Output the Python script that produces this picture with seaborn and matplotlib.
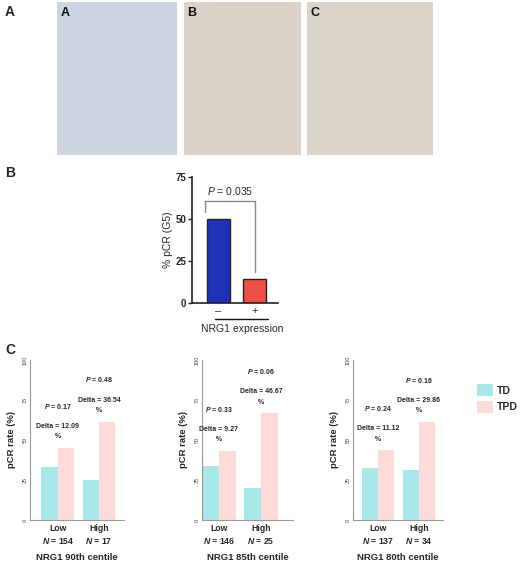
import matplotlib
matplotlib.use("Agg")
import matplotlib.pyplot as plt
import seaborn as sns
import pandas as pd
from matplotlib.lines import Line2D
from matplotlib.patches import Patch

sns.set_theme(style="white")
plt.rcParams['font.family'] = ['Liberation Sans', 'DejaVu Sans']
plt.rcParams['mathtext.fontset'] = 'custom'
plt.rcParams['mathtext.it'] = 'Liberation Sans:italic'
plt.rcParams['mathtext.sf'] = 'Liberation Sans:italic:bold'
plt.rcParams['mathtext.rm'] = 'Liberation Sans'

# ---- Data ----
# Panel B
b_groups = ['–', '+']
b_values = [50.0, 14.0]
b_colors = ['#2030b8', '#ec4f47']
b_pvalue = '0.035'

# Panel C
c_groups = ['Low', 'High']
c_arms = ['TD', 'TPD']
c_titles = ['NRG1 90th centile', 'NRG1 85th centile', 'NRG1 80th centile']
c_td = [[33.0, 25.0], [34.0, 20.0], [32.5, 31.3]]
c_tpd = [[45.1, 61.5], [43.3, 66.7], [43.6, 61.2]]
c_n = [[154, 17], [146, 25], [137, 34]]
c_p = [['0.17', '0.48'], ['0.33', '0.06'], ['0.24', '0.16']]
c_delta = [['12.09', '36.54'], ['9.27', '46.67'], ['11.12', '29.86']]
palette = {'TD': '#a9e8e9', 'TPD': '#fddbd8'}

W, H = 520, 561
fig = plt.figure(figsize=(W / 100, H / 100), dpi=100)


def box(x0, y0, x1, y1):
    return [x0 / W, 1 - y1 / H, (x1 - x0) / W, (y1 - y0) / H]


# ---- Panel A: image placeholders ----
img_boxes = [(57, 2, 177, 155), (184, 2, 301, 155), (307, 2, 433, 155)]
img_cols = ['#cdd4e2', '#dcd1c6', '#dbd4c9']
for (x0, y0, x1, y1), col, lab in zip(img_boxes, img_cols, ['A', 'B', 'C']):
    a = fig.add_axes(box(x0, y0, x1, y1))
    a.set_facecolor(col)
    a.set_xticks([]); a.set_yticks([])
    for s in a.spines.values():
        s.set_visible(False)
    a.text(0.03, 0.97, lab, transform=a.transAxes, ha='left', va='top',
           fontsize=9, fontweight='bold', color='#111111')

fig.text(5 / W, 1 - 12 / H, 'A', fontsize=10, fontweight='bold', va='center')
fig.text(5 / W, 1 - 173 / H, 'B', fontsize=10, fontweight='bold', va='center')
fig.text(5 / W, 1 - 350 / H, 'C', fontsize=10, fontweight='bold', va='center')

# ---- Panel B ----
axb = fig.add_axes(box(192, 177, 278, 303))
dfb = pd.DataFrame({'group': b_groups, 'value': b_values})
sns.barplot(data=dfb, x='group', y='value', hue='group', palette=b_colors,
            width=0.64, saturation=1, edgecolor='#222222', linewidth=1.0,
            legend=False, ax=axb)
axb.set_xlim(-0.736, 1.653)
axb.set_ylim(0, 75)
axb.set_yticks([0, 25, 50, 75])
axb.tick_params(axis='y', labelsize=7, length=3, width=1, color='#222222', pad=1, left=True)
axb.tick_params(axis='x', labelsize=8, length=0, pad=2)
for lab in axb.get_yticklabels():
    lab.set_fontweight('bold')
axb.spines['top'].set_visible(False)
axb.spines['right'].set_visible(False)
for s in ['left', 'bottom']:
    axb.spines[s].set_color('#222222')
    axb.spines[s].set_linewidth(1.2)
axb.set_xlabel('')
axb.set_ylabel('% pCR (G5)', fontsize=7.5, labelpad=2)
# significance bracket
bx0, bx1 = -0.375, 1.01
axb.plot([bx0, bx0, bx1, bx1], [54.2, 60.9, 60.9, 18.5], color='#888888', lw=1.0, clip_on=False)
axb.text((bx0 + bx1) / 2, 66.5, r'$\mathit{P}$ = ' + b_pvalue, ha='center', va='center', fontsize=7.5)
# group line and label below
fig.add_artist(Line2D([215 / W, 268 / W], [1 - 319 / H, 1 - 319 / H], color='#111111', lw=1.0))
fig.text(242 / W, 1 - 329 / H, 'NRG1 expression', ha='center', va='center', fontsize=7.5)

# ---- Panel C ----
c_axes = [(30, 124, -0.68, 1.61), (202, 293, -0.40, 1.76), (353, 443, -0.61, 1.59)]
for i, (x0, x1, xl, xr) in enumerate(c_axes):
    ax = fig.add_axes(box(x0, 360, x1, 520))
    rows = []
    for g, grp in enumerate(c_groups):
        rows.append({'group': grp, 'arm': 'TD', 'rate': c_td[i][g]})
        rows.append({'group': grp, 'arm': 'TPD', 'rate': c_tpd[i][g]})
    df = pd.DataFrame(rows)
    sns.barplot(data=df, x='group', y='rate', hue='arm', hue_order=c_arms,
                palette=palette, width=0.8, saturation=1, linewidth=0,
                legend=False, ax=ax)
    ax.set_xlim(xl, xr)
    ax.set_ylim(0, 100)
    ax.set_yticks([0, 25, 50, 75, 100])
    ax.set_yticklabels(['0', '25', '50', '75', '100'], rotation=90, va='center')
    ax.tick_params(axis='y', labelsize=4, length=0, pad=1.5, colors='#444444')
    ax.tick_params(axis='x', length=0, pad=3)
    ax.set_xticks([0, 1])
    ax.set_xticklabels([f'{grp}\n' + r'$\mathsf{N}$' + f' = {n}' for grp, n in zip(c_groups, c_n[i])],
                       fontsize=6.2, fontweight='bold', linespacing=1.3)
    ax.spines['top'].set_visible(False)
    ax.spines['right'].set_visible(False)
    for s in ['left', 'bottom']:
        ax.spines[s].set_color('#999999')
        ax.spines[s].set_linewidth(0.8)
    ax.set_ylabel('pCR rate (%)', fontsize=6.8, fontweight='bold', labelpad=5)
    ax.set_xlabel(c_titles[i], fontsize=6.8, fontweight='bold', labelpad=5)
    for g in range(2):
        top = c_tpd[i][g]
        ax.text(g, top + 7, '%', ha='center', va='center', fontsize=5, fontweight='bold')
        ax.text(g, top + 13.5, f'Delta = {c_delta[i][g]}', ha='center', va='center',
                fontsize=5, fontweight='bold')
        ax.text(g, top + 26, r'$\mathsf{P}$ = ' + c_p[i][g], ha='center', va='center',
                fontsize=5, fontweight='bold')

# Legend
handles = [Patch(facecolor=palette[a], edgecolor='none', label=a) for a in c_arms]
fig.legend(handles=handles, loc='upper left', bbox_to_anchor=(474 / W, 1 - 381 / H),
           frameon=False, prop={'weight': 'bold', 'size': 7.5},
           handlelength=1.55, handleheight=1.45, handletextpad=0.3, labelspacing=0.4,
           borderaxespad=0, borderpad=0.3)

fig.savefig('out.png', dpi=100)
